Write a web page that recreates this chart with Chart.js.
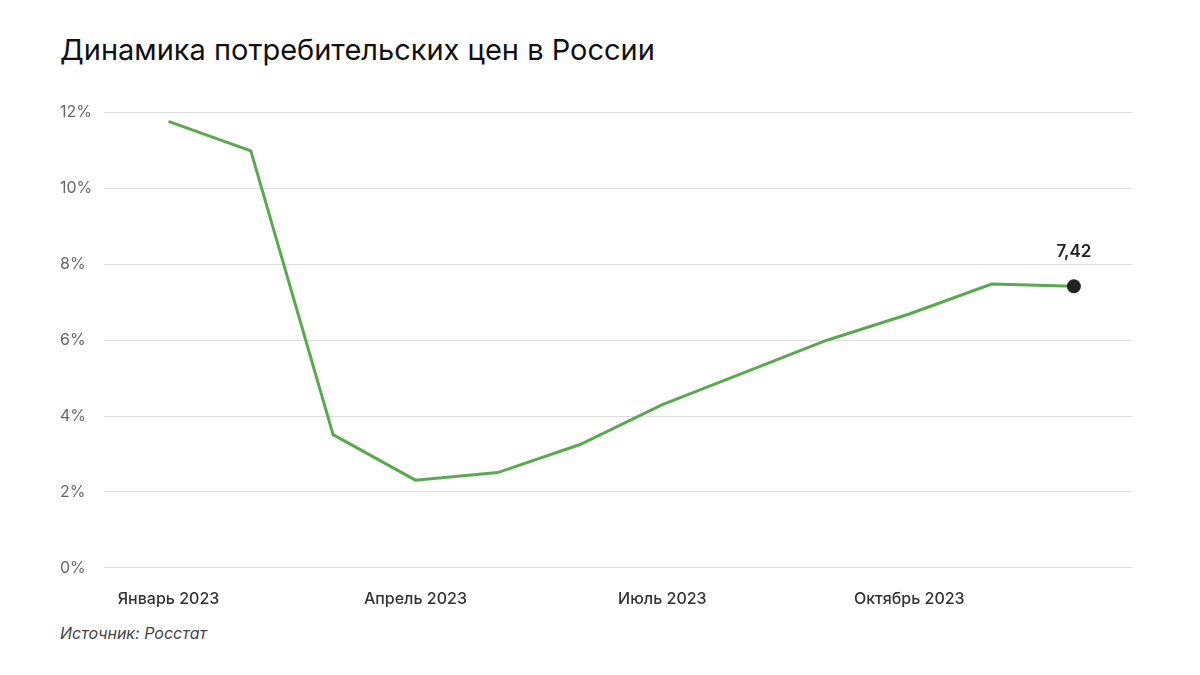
<!DOCTYPE html>
<html>
<head>
<meta charset="utf-8">
<script src="https://cdn.jsdelivr.net/npm/chart.js@4"></script>
<style>
  body { margin: 0; background: #fff; font-family: Inter, sans-serif; }
  #wrap { position: relative; width: 1200px; height: 675px; }
  #title { position: absolute; left: 60px; top: 32px; font-size: 29px; color: #111; font-weight: 400; }
  #source { position: absolute; left: 60px; top: 623px; font-size: 16px; color: #444; font-style: italic; }
  #box { position: absolute; left: 60px; top: 97px; width: 1080px; height: 526px; }
</style>
</head>
<body>
<div id="wrap">
  <div id="title">Динамика потребительских цен в России</div>
  <div id="box"><canvas id="chart"></canvas></div>
  <div id="source">Источник: Росстат</div>
</div>
<script>
// Data
const months = ['Январь 2023', 'Февраль 2023', 'Март 2023', 'Апрель 2023', 'Май 2023', 'Июнь 2023',
                'Июль 2023', 'Август 2023', 'Сентябрь 2023', 'Октябрь 2023', 'Ноябрь 2023', 'Декабрь 2023'];
const inflation = [11.77, 10.99, 3.51, 2.31, 2.51, 3.25, 4.3, 5.15, 6.0, 6.69, 7.48, 7.42];
const yTicks = [0, 2, 4, 6, 8, 10, 12];
const xTickIdx = [0, 3, 6, 9];
const lastLabel = '7,42';

const last = inflation.length - 1;

// Label above the last point
const lastLabelPlugin = {
    id: 'lastLabel',
    afterDatasetsDraw(chart) {
        const pt = chart.getDatasetMeta(0).data[last];
        const ctx = chart.ctx;
        ctx.save();
        ctx.font = '600 17px Inter, sans-serif';
        ctx.fillStyle = '#222';
        ctx.textAlign = 'center';
        ctx.textBaseline = 'bottom';
        ctx.fillText(lastLabel, pt.x, pt.y - 26);
        ctx.restore();
    }
};

new Chart(document.getElementById('chart'), {
    type: 'line',
    data: {
        datasets: [{
            data: inflation.map((v, i) => ({ x: i, y: v })),
            borderColor: '#5aa84f',
            borderWidth: 3,
            tension: 0,
            pointRadius: inflation.map((v, i) => i === last ? 5.5 : 0),
            pointBackgroundColor: '#222',
            pointBorderColor: '#222'
        }]
    },
    options: {
        responsive: true,
        maintainAspectRatio: false,
        animation: false,
        layout: { padding: { top: 12, right: 0, left: 0, bottom: 0 } },
        plugins: { legend: { display: false }, tooltip: { enabled: false } },
        scales: {
            x: {
                type: 'linear',
                min: -0.78,
                max: 11.7,
                afterBuildTicks: axis => { axis.ticks = xTickIdx.map(v => ({ value: v })); },
                grid: { display: false },
                border: { display: false },
                ticks: {
                    color: '#333',
                    font: { family: 'Inter', size: 16, weight: '500' },
                    maxRotation: 0,
                    autoSkip: false,
                    padding: 14,
                    callback: v => months[v]
                }
            },
            y: {
                min: 0,
                max: 12,
                afterBuildTicks: axis => { axis.ticks = yTicks.map(v => ({ value: v })); },
                grid: { color: '#dcdcdc', drawTicks: false },
                border: { display: false },
                ticks: {
                    color: '#666',
                    font: { family: 'Inter', size: 16 },
                    crossAlign: 'far',
                    padding: 6,
                    callback: v => v + '%'
                }
            }
        }
    },
    plugins: [lastLabelPlugin]
});
</script>
</body>
</html>
